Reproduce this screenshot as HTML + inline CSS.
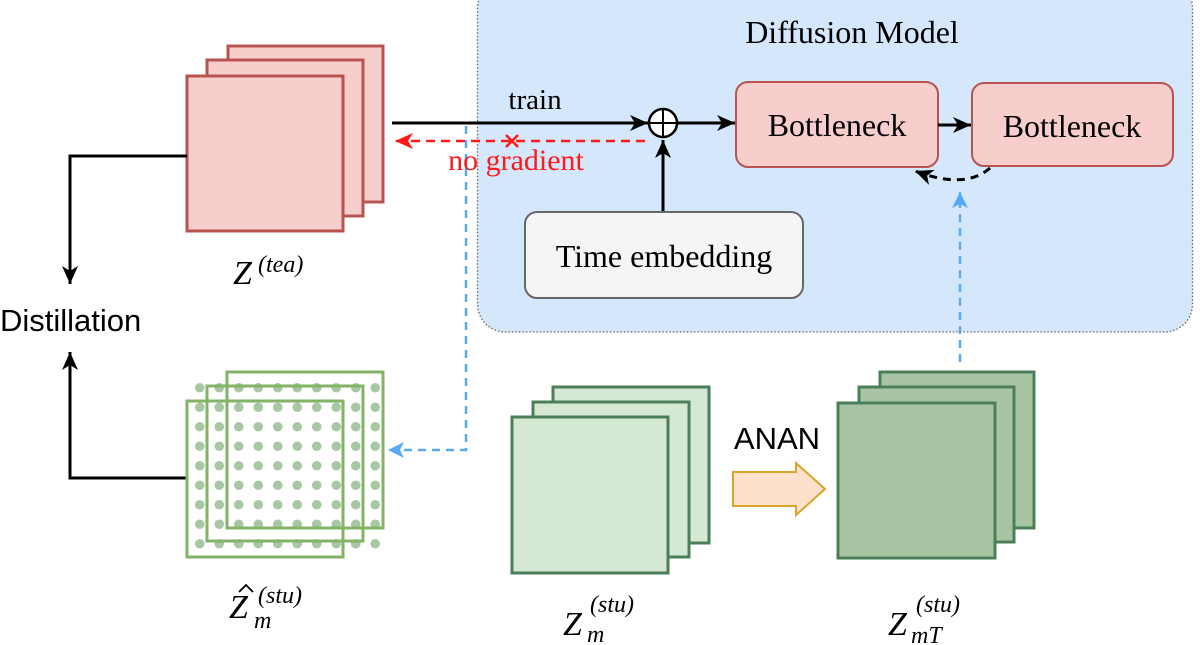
<!DOCTYPE html>
<html><head><meta charset="utf-8"><style>
html,body{margin:0;padding:0;background:#fff;width:1200px;height:645px;overflow:hidden}
</style></head><body>
<svg width="1200" height="645" viewBox="0 0 1200 645" xmlns="http://www.w3.org/2000/svg">
<defs>
<marker id="ab2" markerWidth="20" markerHeight="16" refX="18" refY="8" orient="auto" markerUnits="userSpaceOnUse"><path d="M0,0 L18,8 L0,16 L5,8 Z" fill="#000"/></marker>
<marker id="ar" markerWidth="20" markerHeight="16" refX="18" refY="8" orient="auto" markerUnits="userSpaceOnUse"><path d="M0,0 L18,8 L0,16 L5,8 Z" fill="#ff1a1a"/></marker>
<marker id="abl" markerWidth="18" markerHeight="16" refX="16" refY="8" orient="auto" markerUnits="userSpaceOnUse"><path d="M0,0 L16,8 L0,16 L4,8 Z" fill="#5aa9f5"/></marker>
<pattern id="dots" x="190" y="378" width="19.5" height="19.5" patternUnits="userSpaceOnUse"><circle cx="9.75" cy="9.75" r="4.8" fill="#a7c8a3"/></pattern>
</defs>

<rect x="477.5" y="-20" width="715" height="352" rx="28" fill="#d4e7fb" stroke="#666" stroke-width="1.3" stroke-dasharray="1.5,2"/>
<text x="852" y="43" font-family="Liberation Serif, serif" font-size="32" text-anchor="middle">Diffusion Model</text>

<g fill="#f8cecc" stroke="#b85450" stroke-width="3">
<rect x="228" y="46" width="155" height="156"/>
<rect x="207" y="60" width="156" height="156"/>
<rect x="187" y="76" width="156" height="155"/>
</g>
<text x="233" y="284" font-family="Liberation Serif, serif" font-size="34" font-style="italic">Z</text>
<text x="258" y="272" font-family="Liberation Serif, serif" font-size="24" font-style="italic">(tea)</text>

<path d="M187,156 H70 V284" fill="none" stroke="#000" stroke-width="3" marker-end="url(#ab2)"/>
<path d="M187,478 H70 V352" fill="none" stroke="#000" stroke-width="3" marker-end="url(#ab2)"/>
<text x="0" y="331" font-family="Liberation Sans, sans-serif" font-size="31">Distillation</text>

<rect x="188" y="374" width="196" height="182" fill="url(#dots)"/>
<g fill="none" stroke="#82b366" stroke-width="3">
<rect x="227" y="372" width="156" height="156"/>
<rect x="207" y="386" width="156" height="155"/>
<rect x="187" y="401" width="156" height="156"/>
</g>
<text x="229" y="618" font-family="Liberation Serif, serif" font-size="34" font-style="italic">Z</text>
<path d="M239,592 L246,585 L253,592" fill="none" stroke="#000" stroke-width="1.8"/>
<text x="254" y="628" font-family="Liberation Serif, serif" font-size="24" font-style="italic">m</text>
<text x="258" y="603" font-family="Liberation Serif, serif" font-size="24" font-style="italic">(stu)</text>

<path d="M466,126 V450 H388" fill="none" stroke="#5aa9f5" stroke-width="2.5" stroke-dasharray="8,6" marker-end="url(#abl)"/>

<line x1="392" y1="123" x2="648" y2="123" stroke="#000" stroke-width="3" marker-end="url(#ab2)"/>
<text x="535" y="109" font-family="Liberation Serif, serif" font-size="29" text-anchor="middle">train</text>
<line x1="645" y1="141" x2="395" y2="141" stroke="#ff1a1a" stroke-width="2.5" stroke-dasharray="9,6" marker-end="url(#ar)"/>
<path d="M506,135 L518,147 M518,135 L506,147" stroke="#ff1a1a" stroke-width="2.5"/>
<text x="516" y="170" font-family="Liberation Serif, serif" font-size="30" fill="#ff1a1a" text-anchor="middle">no gradient</text>

<line x1="663" y1="212" x2="663" y2="140" stroke="#000" stroke-width="3" marker-end="url(#ab2)"/>
<circle cx="663" cy="123" r="14" fill="#fff" stroke="#000" stroke-width="2.5"/>
<path d="M649,123 H677 M663,109 V137" stroke="#000" stroke-width="2"/>
<line x1="677" y1="123" x2="735" y2="123" stroke="#000" stroke-width="3" marker-end="url(#ab2)"/>

<rect x="736" y="82" width="202" height="85" rx="12" fill="#f8cecc" stroke="#b85450" stroke-width="2"/>
<text x="837" y="136" font-family="Liberation Serif, serif" font-size="32" text-anchor="middle">Bottleneck</text>
<line x1="938" y1="125" x2="971" y2="125" stroke="#000" stroke-width="3" marker-end="url(#ab2)"/>
<rect x="972" y="83" width="201" height="83" rx="12" fill="#f8cecc" stroke="#b85450" stroke-width="2"/>
<text x="1072" y="137" font-family="Liberation Serif, serif" font-size="32" text-anchor="middle">Bottleneck</text>
<path d="M990,168 Q965,190 915,171" fill="none" stroke="#000" stroke-width="3" stroke-dasharray="8,6" marker-end="url(#ab2)"/>

<rect x="525" y="212" width="278" height="86" rx="12" fill="#f5f5f5" stroke="#666" stroke-width="2"/>
<text x="664" y="267" font-family="Liberation Serif, serif" font-size="32" text-anchor="middle">Time embedding</text>

<line x1="960" y1="362" x2="960" y2="192" stroke="#5aa9f5" stroke-width="2.5" stroke-dasharray="8,6" marker-end="url(#abl)"/>

<g fill="#d5e8d4" stroke="#4a7f5a" stroke-width="3">
<rect x="553" y="387" width="156" height="156"/>
<rect x="533" y="402" width="156" height="155"/>
<rect x="512" y="417" width="156" height="156"/>
</g>
<text x="563" y="635" font-family="Liberation Serif, serif" font-size="34" font-style="italic">Z</text>
<text x="587" y="642" font-family="Liberation Serif, serif" font-size="24" font-style="italic">m</text>
<text x="590" y="612" font-family="Liberation Serif, serif" font-size="24" font-style="italic">(stu)</text>

<text x="777" y="449" font-family="Liberation Sans, sans-serif" font-size="31" text-anchor="middle">ANAN</text>
<path d="M733,472 H796 V463 L825,489 L796,515 V506 H733 Z" fill="#fde1cd" stroke="#d6a52a" stroke-width="2"/>

<g fill="#a8c4a3" stroke="#4a7f5a" stroke-width="3">
<rect x="880" y="372" width="154" height="156"/>
<rect x="859" y="387" width="155" height="155"/>
<rect x="838" y="403" width="157" height="155"/>
</g>
<text x="888" y="635" font-family="Liberation Serif, serif" font-size="34" font-style="italic">Z</text>
<text x="911" y="643" font-family="Liberation Serif, serif" font-size="24" font-style="italic">mT</text>
<text x="916" y="612" font-family="Liberation Serif, serif" font-size="24" font-style="italic">(stu)</text>
</svg>
</body></html>
